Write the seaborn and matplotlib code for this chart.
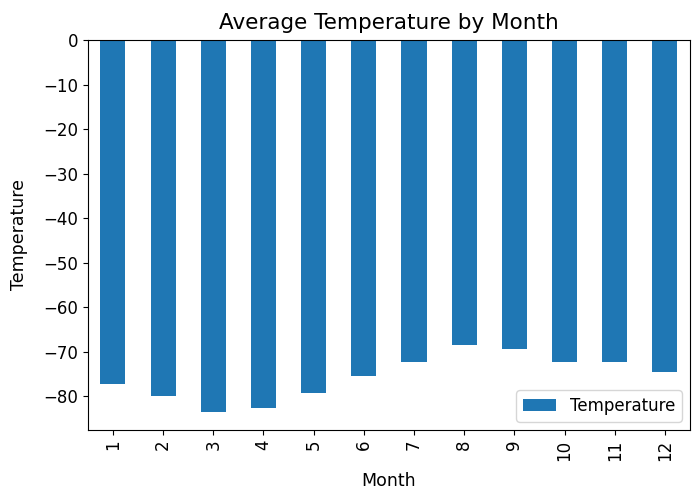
import matplotlib
matplotlib.use("Agg")
import matplotlib.pyplot as plt
import seaborn as sns
import pandas as pd

months = [1, 2, 3, 4, 5, 6, 7, 8, 9, 10, 11, 12]
temperature = [-77.1, -79.9, -83.4, -82.7, -79.3, -75.5, -72.3, -68.4, -69.4, -72.3, -72.3, -74.6]

df = pd.DataFrame({"Month": months, "Temperature": temperature})

plt.rcParams['font.family'] = ['DejaVu Sans']
plt.rcParams['font.size'] = 12

fig = plt.figure(figsize=(6.97, 5.01), dpi=100)
ax = fig.add_axes([0.126, 0.142, 0.864, 0.778])

sns.barplot(data=df, x="Month", y="Temperature", color="#1f77b4", saturation=1,
            width=0.5, ax=ax, label="Temperature")

ax.set_title("Average Temperature by Month", fontsize=15.5, pad=8)
ax.set_xlabel("Month", fontsize=12.5, labelpad=8)
ax.set_ylabel("Temperature", fontsize=12.5, labelpad=11)
ax.set_xticks(range(len(months)))
ax.set_xticklabels([str(m) for m in months], rotation=90)
ax.set_yticks(range(0, -90, -10))
ax.set_xlim(-0.5, len(months) - 0.5)
ax.set_ylim(-87.5, 0)
ax.legend(loc="lower right", fontsize=12)

fig.savefig("out.png", dpi=100)
